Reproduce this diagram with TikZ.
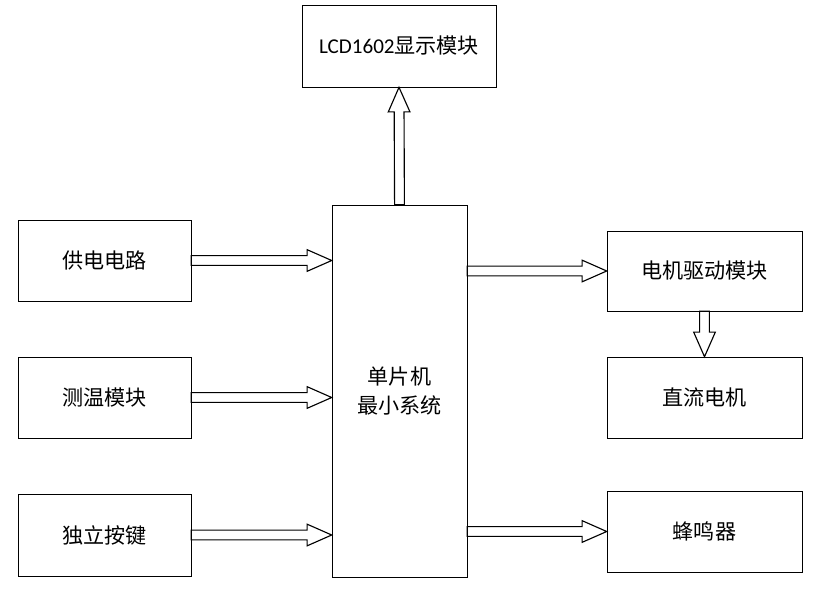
\documentclass[tikz,border=0pt]{standalone}
\usepackage{fontspec}
\setmainfont{Carlito}
\newfontfamily\cjk{Noto Sans CJK SC}
\usetikzlibrary{positioning,calc}
\tikzset{
  module/.style={draw, rectangle, fill=white, text centered, align=center, font=\cjk\fontsize{15}{21}\selectfont},
  harrow/.style={draw, thick, to path={($(\tikztotarget)!17.5pt!(\tikztostart)$) coordinate (hb)
    ($(\tikztostart)!3.5pt!90:(\tikztotarget)$) -- ($(hb)!3.5pt!-90:(\tikztostart)$)
    -- ($(hb)!7.7pt!-90:(\tikztostart)$) -- (\tikztotarget) -- ($(hb)!7.7pt!90:(\tikztostart)$)
    -- ($(hb)!3.5pt!90:(\tikztostart)$) -- ($(\tikztostart)!3.5pt!-90:(\tikztotarget)$) -- cycle}}
}
\begin{document}
\begin{tikzpicture}[x=0.025cm, y=-0.025cm]
  \useasboundingbox (0,0) rectangle (821,598);

  % Place nodes
  \node [module, minimum width=194*0.025cm, minimum height=82*0.025cm] (lcd) at (399,46) {{\fontspec{Carlito}LCD1602}显示模块};
  \node [module, minimum width=135*0.025cm, minimum height=372*0.025cm] (mcu) at (399.5,391) {单片机\\最小系统};
  \node [module, minimum width=173*0.025cm, minimum height=81*0.025cm] (gd) at (104.5,260.5) {供电电路};
  \node [module, minimum width=173*0.025cm, minimum height=81*0.025cm] (cw) at (104.5,397.5) {测温模块};
  \node [module, minimum width=173*0.025cm, minimum height=82*0.025cm] (aj) at (104.5,535) {独立按键};
  \node [module, minimum width=195*0.025cm, minimum height=80*0.025cm] (qd) at (704.5,271) {电机驱动模块};
  \node [module, minimum width=195*0.025cm, minimum height=81*0.025cm] (dj) at (704.5,397.5) {直流电机};
  \node [module, minimum width=195*0.025cm, minimum height=81*0.025cm] (fmq) at (704.5,531.5) {蜂鸣器};

  % Draw edges
  \path [harrow] (gd.east) to (gd.east -| mcu.west);
  \path [harrow] (cw.east) to (cw.east -| mcu.west);
  \path [harrow] (aj.east) to (aj.east -| mcu.west);
  \path [harrow] (mcu.north) to (lcd.south);
  \path [harrow] (qd.west -| mcu.east) to (qd.west);
  \path [harrow] (fmq.west -| mcu.east) to (fmq.west);
  \path [harrow] (qd.south) to (dj.north);
\end{tikzpicture}
\end{document}
